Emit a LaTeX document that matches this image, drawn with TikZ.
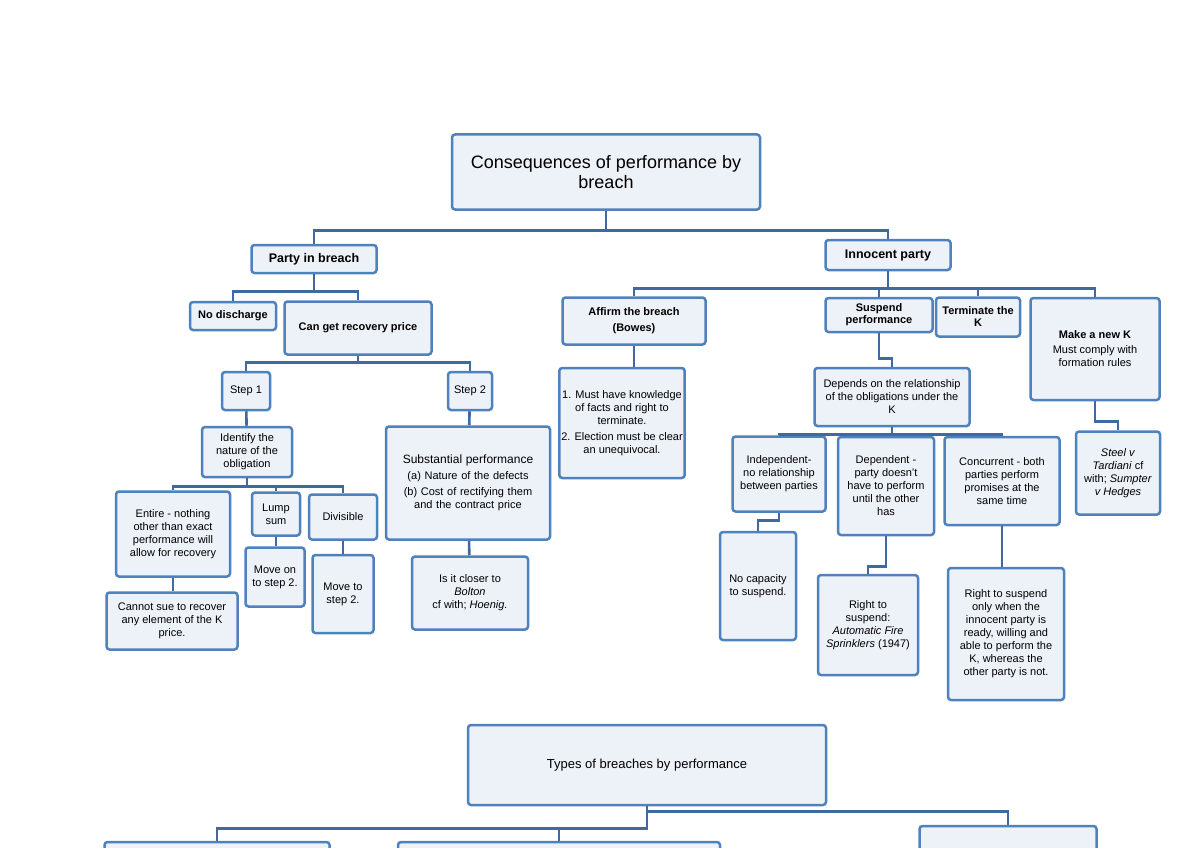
\documentclass[tikz,border=0pt]{standalone}
\usepackage{fontspec}
\setmainfont{Liberation Sans}
\usetikzlibrary{positioning}
\definecolor{boxblue}{RGB}{79,129,189}
\definecolor{linkblue}{RGB}{63,105,160}
\definecolor{boxfill}{RGB}{237,241,248}

\tikzset{
  box/.style={draw=boxblue,line width=2.5pt,rounded corners=3pt,fill=boxfill,
    align=center,inner sep=2pt,font=\fontsize{11}{13}\selectfont},
  head/.style={box,font=\fontsize{12.5}{14}\selectfont\bfseries},
  link/.style={draw=linkblue,line width=2.6pt}
}

\begin{document}
\begin{tikzpicture}[x=1pt,y=-1pt]
\useasboundingbox (0,0) rectangle (1200,848);
% top of the tree
\node[box,minimum width=308,minimum height=75,font=\fontsize{18}{20}\selectfont] (title) at (606,172) {Consequences of performance by\\breach};
\node[head,minimum width=125,minimum height=28] (party) at (314,259) {Party in breach};
\node[head,minimum width=125,minimum height=30] (innocent) at (888,255) {Innocent party};
% party in breach
\node[head,minimum width=86,minimum height=28,font=\fontsize{11}{13}\selectfont\bfseries] (nodisch) at (233,316) {No discharge};
\node[head,minimum width=147,minimum height=53,font=\fontsize{11}{13}\selectfont\bfseries] (canget) at (358,328) {Can get recovery price};
\node[box,minimum width=48,minimum height=38] (step1) at (246,391) {Step 1};
\node[box,minimum width=44,minimum height=38] (step2) at (470,391) {Step 2};
\node[box,minimum width=90,minimum height=50] (ident) at (247,452) {Identify the\\nature of the\\obligation};
\node[box,minimum width=164,minimum height=113,text width=158] (subst) at (468,483) {{\fontsize{12}{14}\selectfont Substantial performance}\\[3pt](a) Nature of the defects\\[3pt](b) Cost of rectifying them and the contract price};
\node[box,minimum width=114,minimum height=85] (entire) at (173,534) {Entire - nothing\\other than exact\\performance will\\allow for recovery};
\node[box,minimum width=48,minimum height=43] (lump) at (276,514) {Lump\\sum};
\node[box,minimum width=68,minimum height=45] (divis) at (343,517) {Divisible};
\node[box,minimum width=131,minimum height=57] (cannot) at (172,621) {Cannot sue to recover\\any element of the K\\price.};
\node[box,minimum width=59,minimum height=59] (moveon) at (275,577) {Move on\\to step 2.};
\node[box,minimum width=61,minimum height=78] (moveto) at (343,594) {Move to\\step 2.};
\node[box,minimum width=116,minimum height=73] (closer) at (470,593) {Is it closer to\\\textit{Bolton}\\cf with; \textit{Hoenig.}};
% innocent party
\node[head,minimum width=143,minimum height=47,font=\fontsize{11}{16}\selectfont\bfseries] (affirm) at (634,321) {Affirm the breach\\(Bowes)};
\node[box,minimum width=119,minimum height=110] (mustknow) at (622,423) {1. Must have knowledge\\of facts and right to\\terminate.\\[3pt]2. Election must be clear\\an unequivocal.};
\node[head,minimum width=107,minimum height=34,font=\fontsize{11}{12}\selectfont\bfseries] (suspend) at (879,315) {Suspend\\performance};
\node[head,minimum width=84,minimum height=39,font=\fontsize{11}{12}\selectfont\bfseries] (terminate) at (978,317) {Terminate the\\K};
\node[box,minimum width=129,minimum height=102] (makenew) at (1095,349) {\textbf{Make a new K}\\[2pt]Must comply with\\formation rules};
\node[box,minimum width=155,minimum height=58] (depends) at (892,397) {Depends on the relationship\\of the obligations under the\\K};
\node[box,minimum width=93,minimum height=75] (indep) at (779,474) {Independent-\\no relationship\\between parties};
\node[box,minimum width=96,minimum height=98] (dep) at (886,486) {Dependent -\\party doesn't\\have to perform\\until the other\\has};
\node[box,minimum width=115,minimum height=88] (concur) at (1002,481) {Concurrent - both\\parties perform\\promises at the\\same time};
\node[box,minimum width=76,minimum height=108] (nocap) at (758,586) {No capacity\\to suspend.};
\node[box,minimum width=100,minimum height=100] (rightsus) at (868,625) {Right to\\suspend:\\\textit{Automatic Fire}\\\textit{Sprinklers} (1947)};
\node[box,minimum width=116,minimum height=132] (rightonly) at (1006,634) {Right to suspend\\only when the\\innocent party is\\ready, willing and\\able to perform the\\K, whereas the\\other party is not.};
\node[box,minimum width=84,minimum height=83] (steel) at (1118,473) {\textit{Steel v}\\\textit{Tardiani} cf\\with; \textit{Sumpter}\\\textit{v Hedges}};
% second tree
\node[box,minimum width=358,minimum height=80,font=\fontsize{13}{15}\selectfont] (types) at (647,765) {Types of breaches by performance};
\node[box,minimum width=225,minimum height=20] (typea) at (217,852) {};
\node[box,minimum width=322,minimum height=20] (typeb) at (559,852) {};
\node[box,minimum width=177,minimum height=40] (typec) at (1008,846) {};
% connectors
\draw[link] (title.south) -- ++(0,20) -| (party.north);
\draw[link] (title.south) -- ++(0,20) -| (innocent.north);
\draw[link] (party.south) -- ++(0,17) -| (nodisch.north);
\draw[link] (party.south) -- ++(0,17) -| (canget.north);
\draw[link] (canget.south) -- ++(0,7) -| (step1.north);
\draw[link] (canget.south) -- ++(0,7) -| (step2.north);
\draw[link] (step1) -- (ident);
\draw[link] (step2) -- (subst);
\draw[link] (ident.south) -- ++(0,8) -| (entire.north);
\draw[link] (ident.south) -- ++(0,8) -| (lump.north);
\draw[link] (ident.south) -- ++(0,8) -| (divis.north);
\draw[link] (entire.south) -- (entire.south |- cannot.north);
\draw[link] (lump) -- (lump |- moveon.north);
\draw[link] (divis) -- (divis |- moveto.north);
\draw[link] (subst) -- (closer);
\draw[link] (innocent.south) -- ++(0,17) -| (affirm.north);
\draw[link] (innocent.south) -- ++(0,17) -| (suspend.north);
\draw[link] (innocent.south) -- ++(0,17) -| (terminate.north);
\draw[link] (innocent.south) -- ++(0,17) -| (makenew.north);
\draw[link] (affirm.south) -- (affirm.south |- mustknow.north);
\draw[link] (suspend.south) -- ++(0,25) -| (depends.north);
\draw[link] (depends.south) -- ++(0,7) -| (indep.north);
\draw[link] (depends.south) -- ++(0,7) -| (dep.north);
\draw[link] (depends.south) -- ++(0,7) -| (concur.north);
\draw[link] (indep.south) -- ++(0,8) -| (nocap.north);
\draw[link] (dep.south) -- ++(0,30) -| (rightsus.north);
\draw[link] (concur.south) -- (concur.south |- rightonly.north);
\draw[link] (makenew.south) -- ++(0,20) -| (steel.north);
\draw[link] (types.south) -- ++(0,5) -| (typec.north);
\draw[link] (types.south) -- ++(0,22) -| (typea.north);
\draw[link] (types.south) -- ++(0,22) -| (typeb.north);
\end{tikzpicture}
\end{document}
